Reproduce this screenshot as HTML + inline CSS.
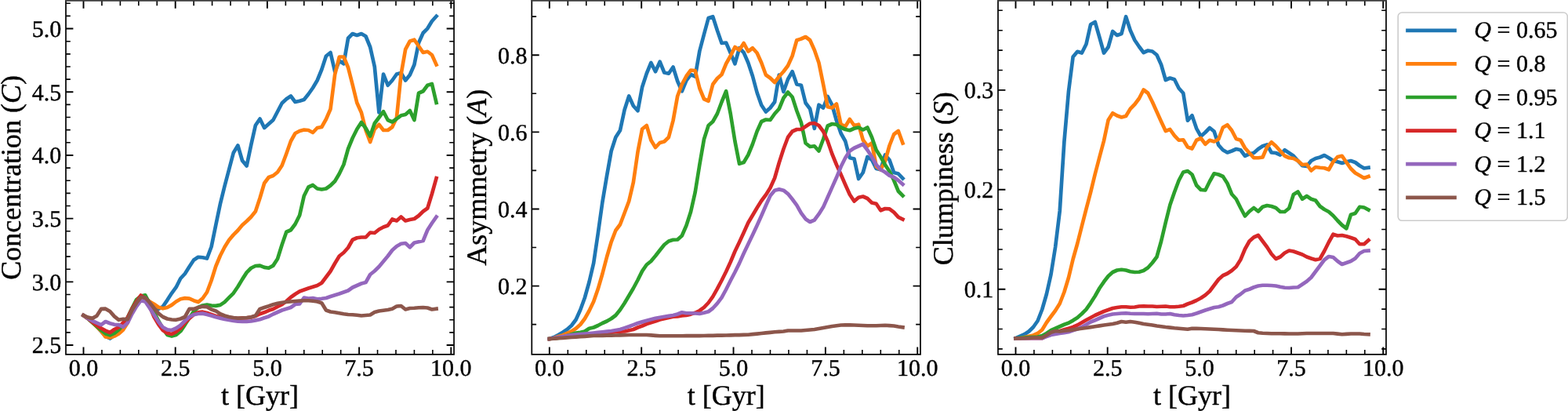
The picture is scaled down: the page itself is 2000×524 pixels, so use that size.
<!DOCTYPE html>
<html lang="en">
<head>
<meta charset="utf-8">
<title>Concentration, Asymmetry and Clumpiness versus time</title>
<style>
html,body{margin:0;padding:0;background:#fff;}
body{width:2000px;height:524px;overflow:hidden;}
svg{display:block;}
text{font-family:"Liberation Serif","DejaVu Serif",serif;fill:#000;text-rendering:geometricPrecision;stroke:#000;stroke-width:0.4px;}
.tk{font-size:30px;}
.lb{font-size:36px;}
.lg{font-size:30px;}
.it{font-style:italic;}
.cv{fill:none;stroke-width:4.7;stroke-linejoin:round;stroke-linecap:square;}
.sp{fill:none;stroke:#000;stroke-width:1.7;stroke-linejoin:miter;}
.mj{stroke:#000;stroke-width:1.9;fill:none;}
.mn{stroke:#000;stroke-width:1.6;fill:none;}
</style>
</head>
<body>
<svg width="2000" height="524" viewBox="0 0 2000 524">
<rect x="0" y="0" width="2000" height="524" fill="#ffffff"/>
<g id="p1">
<clipPath id="clip0"><rect x="84" y="0.8" width="495.06" height="451.1"/></clipPath>
<g clip-path="url(#clip0)">
<polyline class="cv" stroke="#1f77b4" points="106.5,402.1 112.13,406.2 117.75,411 123.38,416 129.01,422.5 134.63,428.75 140.26,431.5 145.88,427.5 151.51,423.75 157.13,416 162.76,405 168.39,393.75 174.01,383.75 179.64,377.5 185.26,380 190.89,385 196.51,388.75 202.14,393.9 207.76,390.8 213.39,382.6 219.02,373.8 224.64,366.2 230.27,355 235.89,349 241.52,340 247.14,331.5 252.77,327.75 258.4,328.25 264.02,329.5 269.65,314.5 275.27,287 280.9,260 286.52,237.25 292.15,216 297.78,194.75 303.4,185.5 309.03,204.75 314.65,211.5 320.28,184.75 325.9,159.75 331.53,151.5 337.16,163 342.78,158 348.41,153 354.03,142.25 359.66,131.5 365.28,126.25 370.91,122.5 376.54,130 382.16,128.75 387.79,127 393.41,120 399.04,112 404.66,102.5 410.29,88.75 415.92,71.5 421.54,67 427.17,91.25 432.79,77.5 438.42,81.25 444.04,48.75 449.67,43 455.29,45 460.92,43 466.55,46.25 472.17,60 477.8,85 483.42,143.5 489.05,94.5 494.67,108.75 500.3,102.5 505.93,94.5 511.55,93 517.18,102.5 522.8,95.5 528.43,82.5 534.05,54.5 539.68,42 545.31,36.3 550.93,27 556.56,20.75"/>
<polyline class="cv" stroke="#ff7f0e" points="106.5,402.1 112.13,406 117.75,411 123.38,416.5 129.01,422 134.63,429.5 140.26,430.5 145.88,428.6 151.51,425.4 157.13,420.4 162.76,411.6 168.39,395 174.01,384 179.64,378 185.26,379.8 190.89,384.5 196.51,387.8 202.14,391.7 207.76,393.3 213.39,392 219.02,388.9 224.64,384.5 230.27,381.3 235.89,380.1 241.52,380.7 247.14,383.2 252.77,385.1 258.4,380.5 264.02,372.5 269.65,357.5 275.27,339.5 280.9,326 286.52,315 292.15,306 297.78,299.4 303.4,293.75 309.03,287 314.65,282 320.28,276.5 325.9,269.5 331.53,252.5 337.16,233.5 342.78,226 348.41,224 354.03,219.5 359.66,211 365.28,196 370.91,180 376.54,170 382.16,167 387.79,165.5 393.41,166 399.04,169 404.66,163 410.29,162 415.92,152 421.54,139 427.17,95 432.79,72.5 438.42,72.5 444.04,86 449.67,108 455.29,131 460.92,143.5 466.55,166 472.17,181 477.8,164.5 483.42,158.8 489.05,166 494.67,166 500.3,162 505.93,150 511.55,95 517.18,62.8 522.8,52.5 528.43,50.75 534.05,58.75 539.68,67 545.31,65.75 550.93,70 556.56,82.5"/>
<polyline class="cv" stroke="#2ca02c" points="106.5,402.1 112.13,406 117.75,411 123.38,416 129.01,421 134.63,425.4 140.26,427.3 145.88,424.8 151.51,420.4 157.13,414 162.76,405 168.39,393 174.01,382 179.64,377.6 185.26,376.3 190.89,387 196.51,398 202.14,409 207.76,419 213.39,427 219.02,428.6 224.64,427 230.27,422.3 235.89,414.1 241.52,405.3 247.14,397.1 252.77,392 258.4,389.5 264.02,388.6 269.65,389.5 275.27,389.9 280.9,388.9 286.52,385.1 292.15,379.4 297.78,373.8 303.4,365.5 309.03,356.1 314.65,347.4 320.28,341.75 325.9,339 331.53,338.6 337.16,340.9 342.78,341.75 348.41,338.6 354.03,330 359.66,312 365.28,295.75 370.91,293.25 376.54,285.75 382.16,274.5 387.79,249.75 393.41,238.5 399.04,236 404.66,240.5 410.29,241.5 415.92,240.5 421.54,236.5 427.17,231 432.79,221.5 438.42,209.75 444.04,189.75 449.67,176 455.29,164.75 460.92,156 466.55,163.5 472.17,173.5 477.8,157.25 483.42,149.75 489.05,142.25 494.67,153 500.3,155.5 505.93,151.5 511.55,147.25 517.18,146 522.8,141 528.43,153 534.05,118.75 539.68,116.25 545.31,108.75 550.93,107 556.56,131"/>
<polyline class="cv" stroke="#d62728" points="106.5,402.1 112.13,406 117.75,410.5 123.38,414.7 129.01,418.5 134.63,421.6 140.26,424 145.88,420 151.51,417.2 157.13,411.5 162.76,405 168.39,393.8 174.01,384.6 179.64,376.6 185.26,380.5 190.89,390.8 196.51,404 202.14,413.5 207.76,421 213.39,424.8 219.02,426 224.64,422.9 230.27,418.5 235.89,411.6 241.52,405.9 247.14,400.9 252.77,398.3 258.4,397.7 264.02,399 269.65,400.9 275.27,403 280.9,404 286.52,405 292.15,405.5 297.78,406 303.4,406 309.03,405.3 314.65,405.3 320.28,404.5 325.9,403 331.53,400.2 337.16,398.3 342.78,395.8 348.41,394 354.03,391 359.66,388.25 365.28,384 370.91,379 376.54,375 382.16,371.5 387.79,369.5 393.41,367.5 399.04,365.75 404.66,364 410.29,360.75 415.92,353.25 421.54,345.75 427.17,335.75 432.79,326.5 438.42,322 444.04,315.75 449.67,305.75 455.29,303.25 460.92,302.5 466.55,302.5 472.17,296.5 477.8,297 483.42,292.5 489.05,289.5 494.67,287.5 500.3,279.5 505.93,281.5 511.55,276.5 517.18,281.5 522.8,280 528.43,279 534.05,275 539.68,269.5 545.31,265.5 550.93,247.25 556.56,227.25"/>
<polyline class="cv" stroke="#9467bd" points="106.5,402.1 112.13,405.9 117.75,409 123.38,411.6 129.01,414.1 134.63,410 140.26,412.2 145.88,413.8 151.51,414.1 157.13,416.9 162.76,411.6 168.39,400.2 174.01,390.8 179.64,383.2 185.26,384.5 190.89,392.7 196.51,401.5 202.14,410.3 207.76,417.2 213.39,420.4 219.02,421 224.64,418.5 230.27,414.7 235.89,409 241.52,404 247.14,401.2 252.77,400 258.4,399.6 264.02,400.9 269.65,402.5 275.27,404.3 280.9,405.6 286.52,406.9 292.15,408 297.78,409 303.4,409.7 309.03,409.9 314.65,409.8 320.28,409.4 325.9,408.4 331.53,407.2 337.16,405.3 342.78,403.4 348.41,400.5 354.03,398 359.66,395.5 365.28,393.75 370.91,392 376.54,388 382.16,387.5 387.79,379.5 393.41,380.5 399.04,380 404.66,381.25 410.29,380.75 415.92,380 421.54,378 427.17,376.25 432.79,374.5 438.42,372.5 444.04,370.5 449.67,366.5 455.29,364 460.92,361.5 466.55,360 472.17,350 477.8,345.5 483.42,340 489.05,333.25 494.67,326.5 500.3,319 505.93,314 511.55,310.75 517.18,310 522.8,315.25 528.43,309.5 534.05,308.25 539.68,307 545.31,293.25 550.93,284.5 556.56,276.5"/>
<polyline class="cv" stroke="#8c564b" points="106.5,402.1 112.13,404.6 117.75,405.9 123.38,402.7 129.01,393.9 134.63,393.7 140.26,397 145.88,403.4 151.51,407.8 157.13,406.8 162.76,407.2 168.39,395.2 174.01,386.4 179.64,379 185.26,379.4 190.89,385.7 196.51,392.7 202.14,399.6 207.76,404 213.39,406.5 219.02,407.5 224.64,407.8 230.27,406.5 235.89,404 241.52,393.9 247.14,393.9 252.77,392 258.4,390.8 264.02,391.2 269.65,394.6 275.27,396.4 280.9,400.2 286.52,402.5 292.15,404 297.78,405 303.4,405.6 309.03,405.5 314.65,405 320.28,404.3 325.9,402.5 331.53,393.9 337.16,392 342.78,390.2 348.41,388.25 354.03,386.75 359.66,385.75 365.28,385 370.91,384.5 376.54,384 382.16,383.5 387.79,383.25 393.41,383.25 399.04,383.75 404.66,384.5 410.29,386.25 415.92,395.5 421.54,397.5 427.17,398.25 432.79,399.25 438.42,400.25 444.04,401 449.67,401.25 455.29,401.75 460.92,402.5 466.55,402 472.17,401.5 477.8,398 483.42,396.5 489.05,395.75 494.67,395 500.3,393.75 505.93,390.5 511.55,390 517.18,394.5 522.8,393 528.43,392.75 534.05,392.25 539.68,392 545.31,392.5 550.93,394.5 556.56,393.75"/>
</g>
<path class="mn" d="M129.94 451.9v-5.8M129.94 0.8v6.5M153.38 451.9v-5.8M153.38 0.8v6.5M176.82 451.9v-5.8M176.82 0.8v6.5M200.26 451.9v-5.8M200.26 0.8v6.5M247.14 451.9v-5.8M247.14 0.8v6.5M270.59 451.9v-5.8M270.59 0.8v6.5M294.03 451.9v-5.8M294.03 0.8v6.5M317.47 451.9v-5.8M317.47 0.8v6.5M364.35 451.9v-5.8M364.35 0.8v6.5M387.79 451.9v-5.8M387.79 0.8v6.5M411.23 451.9v-5.8M411.23 0.8v6.5M434.67 451.9v-5.8M434.67 0.8v6.5M481.55 451.9v-5.8M481.55 0.8v6.5M504.99 451.9v-5.8M504.99 0.8v6.5M528.43 451.9v-5.8M528.43 0.8v6.5M551.87 451.9v-5.8M551.87 0.8v6.5M84 423.92h5.8M579.06 423.92h-5.8M84 407.78h5.8M579.06 407.78h-5.8M84 391.64h5.8M579.06 391.64h-5.8M84 375.5h5.8M579.06 375.5h-5.8M84 343.22h5.8M579.06 343.22h-5.8M84 327.08h5.8M579.06 327.08h-5.8M84 310.94h5.8M579.06 310.94h-5.8M84 294.8h5.8M579.06 294.8h-5.8M84 262.52h5.8M579.06 262.52h-5.8M84 246.38h5.8M579.06 246.38h-5.8M84 230.23h5.8M579.06 230.23h-5.8M84 214.09h5.8M579.06 214.09h-5.8M84 181.81h5.8M579.06 181.81h-5.8M84 165.67h5.8M579.06 165.67h-5.8M84 149.53h5.8M579.06 149.53h-5.8M84 133.39h5.8M579.06 133.39h-5.8M84 101.11h5.8M579.06 101.11h-5.8M84 84.97h5.8M579.06 84.97h-5.8M84 68.83h5.8M579.06 68.83h-5.8M84 52.69h5.8M579.06 52.69h-5.8M84 20.41h5.8M579.06 20.41h-5.8M84 4.27h5.8M579.06 4.27h-5.8"/>
<path class="mj" d="M106.5 451.9v-9.4M106.5 0.8v9.9M223.7 451.9v-9.4M223.7 0.8v9.9M340.91 451.9v-9.4M340.91 0.8v9.9M458.11 451.9v-9.4M458.11 0.8v9.9M575.31 451.9v-9.4M575.31 0.8v9.9M84 440.06h9.4M579.06 440.06h-9.4M84 359.36h9.4M579.06 359.36h-9.4M84 278.66h9.4M579.06 278.66h-9.4M84 197.95h9.4M579.06 197.95h-9.4M84 117.25h9.4M579.06 117.25h-9.4M84 36.55h9.4M579.06 36.55h-9.4"/>
<path class="sp" d="M84 0V451.9H579.06V0"/>
<path class="sp" stroke-linecap="square" style="stroke:#3d3d3d" d="M84 0.8H579.06"/>
<text class="tk" text-anchor="middle" x="106.5" y="478.7">0.0</text>
<text class="tk" text-anchor="middle" x="223.7" y="478.7">2.5</text>
<text class="tk" text-anchor="middle" x="340.91" y="478.7">5.0</text>
<text class="tk" text-anchor="middle" x="458.11" y="478.7">7.5</text>
<text class="tk" text-anchor="middle" x="575.31" y="478.7">10.0</text>
<text class="tk" text-anchor="end" x="78.3" y="450.36">2.5</text>
<text class="tk" text-anchor="end" x="78.3" y="369.66">3.0</text>
<text class="tk" text-anchor="end" x="78.3" y="288.96">3.5</text>
<text class="tk" text-anchor="end" x="78.3" y="208.25">4.0</text>
<text class="tk" text-anchor="end" x="78.3" y="127.55">4.5</text>
<text class="tk" text-anchor="end" x="78.3" y="46.85">5.0</text>
<text class="lb" text-anchor="middle" x="331.53" y="516.1">t [Gyr]</text>
<text class="lb" text-anchor="middle" transform="translate(25.5 226.35) rotate(-90)">Concentration (<tspan class="it">C</tspan>)</text>
</g>
<g id="p2">
<clipPath id="clip1"><rect x="678.3" y="0.8" width="495.7" height="451.1"/></clipPath>
<g clip-path="url(#clip1)">
<polyline class="cv" stroke="#1f77b4" points="700.83,432 706.46,430 712.1,427 717.73,423.75 723.36,420 729,415 734.63,407.5 740.26,395 745.9,379.5 751.53,359.5 757.16,335.5 762.79,297.5 768.43,257.5 774.06,224 779.69,192.5 785.33,175 790.96,166.25 796.59,140 802.22,122.5 807.86,135 813.49,141.25 819.12,111 824.76,93.75 830.39,80 836.02,91.25 841.66,78.75 847.29,92.5 852.92,93.75 858.55,85.5 864.19,103.5 869.82,116.25 875.45,102.5 881.09,95 886.72,97.5 892.35,65 897.99,43.75 903.62,23 909.25,21.25 914.88,38.75 920.52,55 926.15,54.5 931.78,67.5 937.42,81.25 943.05,61.25 948.68,67 954.31,80 959.95,97 965.58,118 971.21,134 976.85,142.5 982.48,137.5 988.11,130 993.75,95.5 999.38,117 1005.01,101 1010.64,91.25 1016.28,107.5 1021.91,108.75 1027.54,131.25 1033.18,138.75 1038.81,163.75 1044.44,133.75 1050.07,137.5 1055.71,123 1061.34,133.75 1066.97,153.75 1072.61,170 1078.24,180 1083.87,201.25 1089.51,202.5 1095.14,228 1100.77,220 1106.4,200 1112.04,203.75 1117.67,215 1123.3,216.25 1128.94,197.5 1134.57,204 1140.2,220 1145.84,221.5 1151.47,227.5"/>
<polyline class="cv" stroke="#ff7f0e" points="700.83,432 706.46,431 712.1,429 717.73,427.5 723.36,425 729,422.5 734.63,418.75 740.26,413.75 745.9,406.25 751.53,396.25 757.16,384.6 762.79,368.3 768.43,349 774.06,327.5 779.69,308.3 785.33,293.75 790.96,286.25 796.59,271.5 802.22,256.5 807.86,232.5 813.49,193.75 819.12,164.5 824.76,160 830.39,178.75 836.02,188 841.66,182 847.29,180.5 852.92,175 858.55,153.75 864.19,122.5 869.82,107.5 875.45,97 881.09,89.5 886.72,90 892.35,112.5 897.99,126.25 903.62,128.75 909.25,107.5 914.88,100 920.52,95 926.15,81.25 931.78,71.25 937.42,60 943.05,63.75 948.68,55 954.31,65.5 959.95,61.25 965.58,67.5 971.21,80 976.85,95.5 982.48,99.5 988.11,105 993.75,97.5 999.38,91.25 1005.01,83.75 1010.64,71.25 1016.28,51.25 1021.91,49.5 1027.54,47 1033.18,51.25 1038.81,63.75 1044.44,80 1050.07,107.5 1055.71,136.25 1061.34,137.5 1066.97,132.5 1072.61,158.75 1078.24,161.25 1083.87,152 1089.51,160 1095.14,158.75 1100.77,178.5 1106.4,186.25 1112.04,182.5 1117.67,212 1123.3,216.25 1128.94,205.5 1134.57,185.5 1140.2,171.25 1145.84,167 1151.47,182.5"/>
<polyline class="cv" stroke="#2ca02c" points="700.83,432 706.46,431.5 712.1,431 717.73,430 723.36,428 729,426.25 734.63,424.5 740.26,423.75 745.9,422.5 751.53,418.75 757.16,417.5 762.79,415 768.43,412 774.06,409.5 779.69,406.25 785.33,402 790.96,395 796.59,386.5 802.22,377 807.86,367.5 813.49,357 819.12,345.6 824.76,337.5 830.39,333 836.02,326.25 841.66,319 847.29,312 852.92,307.5 858.55,305.75 864.19,305.5 869.82,300.5 875.45,287.5 881.09,270 886.72,245 892.35,210 897.99,177.5 903.62,160 909.25,155 914.88,145 920.52,130 926.15,116.25 931.78,145 937.42,180 943.05,208.75 948.68,207 954.31,197.5 959.95,183.75 965.58,167.5 971.21,155 976.85,152.5 982.48,153 988.11,145 993.75,138.75 999.38,125 1005.01,117.5 1010.64,123.75 1016.28,141.25 1021.91,156.25 1027.54,182.5 1033.18,187 1038.81,186.25 1044.44,192.5 1050.07,177.5 1055.71,160.5 1061.34,158 1066.97,158.75 1072.61,162.5 1078.24,165 1083.87,166.25 1089.51,163.75 1095.14,162.5 1100.77,165.5 1106.4,162.5 1112.04,175 1117.67,191.25 1123.3,200 1128.94,210 1134.57,218.5 1140.2,230 1145.84,243.75 1151.47,249.5"/>
<polyline class="cv" stroke="#d62728" points="700.83,432 706.46,431.38 712.1,430.75 717.73,430.12 723.36,429.5 729,428.88 734.63,428.25 740.26,427.62 745.9,427 751.53,426.38 757.16,425.75 762.79,425.2 768.43,424.65 774.06,424.1 779.69,423.55 785.33,423 790.96,422.75 796.59,422.5 802.22,421.25 807.86,420 813.49,417.5 819.12,415.5 824.76,413 830.39,411.25 836.02,409.5 841.66,407.5 847.29,406.25 852.92,405 858.55,403.75 864.19,403.5 869.82,402.5 875.45,401.9 881.09,400.6 886.72,398.75 892.35,396 897.99,391.9 903.62,386 909.25,378.1 914.88,368.1 920.52,357.5 926.15,346.25 931.78,334 937.42,320.5 943.05,308.75 948.68,296.5 954.31,284 959.95,274.5 965.58,265 971.21,256 976.85,248.5 982.48,239.5 988.11,227 993.75,207.5 999.38,190 1005.01,175 1010.64,167.5 1016.28,165 1021.91,165 1027.54,161.25 1033.18,157.5 1038.81,157 1044.44,160 1050.07,167.5 1055.71,180 1061.34,196.25 1066.97,210 1072.61,222.5 1078.24,235.5 1083.87,248 1089.51,256.5 1095.14,251.7 1100.77,250.5 1106.4,253 1112.04,258.5 1117.67,259.8 1123.3,268.3 1128.94,266 1134.57,266.3 1140.2,270.6 1145.84,276.8 1151.47,279.5"/>
<polyline class="cv" stroke="#9467bd" points="700.83,432 706.46,431 712.1,430 717.73,429 723.36,428 729,427 734.63,426.5 740.26,426 745.9,425.5 751.53,425 757.16,424.5 762.79,423.88 768.43,423.25 774.06,422.62 779.69,422 785.33,421 790.96,420 796.59,418.12 802.22,416.25 807.86,414.12 813.49,412 819.12,410.38 824.76,408.75 830.39,407.25 836.02,405.75 841.66,404.75 847.29,403.75 852.92,402.88 858.55,402 864.19,400.5 869.82,398.25 875.45,399.25 881.09,399.25 886.72,399.5 892.35,400 897.99,398.75 903.62,397.25 909.25,393 914.88,386.9 920.52,379.4 926.15,369 931.78,357.8 937.42,347 943.05,335.6 948.68,323 954.31,311.25 959.95,299.5 965.58,287.5 971.21,275 976.85,262 982.48,249.6 988.11,242.7 993.75,241.4 999.38,242.7 1005.01,247.1 1010.64,254 1016.28,261.6 1021.91,271.6 1027.54,279.2 1033.18,283 1038.81,280.5 1044.44,272.9 1050.07,264.1 1055.71,251.5 1061.34,238.9 1066.97,226.3 1072.61,212.5 1078.24,201.25 1083.87,192.5 1089.51,188.75 1095.14,186.25 1100.77,183.75 1106.4,191.25 1112.04,200 1117.67,210 1123.3,216.25 1128.94,219.5 1134.57,223.75 1140.2,226 1145.84,230 1151.47,235"/>
<polyline class="cv" stroke="#8c564b" points="700.83,432 706.46,431.6 712.1,431.2 717.73,430.8 723.36,430.4 729,430 734.63,429.6 740.26,429.2 745.9,428.8 751.53,428.4 757.16,428 762.79,427.9 768.43,427.8 774.06,427.7 779.69,427.6 785.33,427.5 790.96,427.33 796.59,427.17 802.22,427 807.86,427 813.49,427 819.12,427 824.76,427 830.39,427.42 836.02,427.83 841.66,428.25 847.29,428.25 852.92,428.25 858.55,428.25 864.19,428.25 869.82,428.25 875.45,428.2 881.09,428.15 886.72,428.1 892.35,428.05 897.99,428 903.62,427.9 909.25,427.8 914.88,427.7 920.52,427.6 926.15,427.5 931.78,427.35 937.42,427.2 943.05,427.05 948.68,426.9 954.31,426.75 959.95,426.17 965.58,425.58 971.21,425 976.85,424.42 982.48,423.83 988.11,423.25 993.75,422.88 999.38,422.5 1005.01,421.5 1010.64,421.5 1016.28,421.5 1021.91,421.5 1027.54,421 1033.18,420.5 1038.81,420 1044.44,419 1050.07,418 1055.71,417 1061.34,416 1066.97,415.25 1072.61,414.5 1078.24,414.38 1083.87,414.25 1089.51,414.5 1095.14,414.75 1100.77,415 1106.4,415.25 1112.04,415.25 1117.67,415.25 1123.3,415 1128.94,414.75 1134.57,415.12 1140.2,415.5 1145.84,416.5 1151.47,417.25"/>
</g>
<path class="mn" d="M724.3 451.9v-5.8M724.3 0.8v6.5M747.77 451.9v-5.8M747.77 0.8v6.5M771.24 451.9v-5.8M771.24 0.8v6.5M794.71 451.9v-5.8M794.71 0.8v6.5M841.66 451.9v-5.8M841.66 0.8v6.5M865.13 451.9v-5.8M865.13 0.8v6.5M888.6 451.9v-5.8M888.6 0.8v6.5M912.07 451.9v-5.8M912.07 0.8v6.5M959.01 451.9v-5.8M959.01 0.8v6.5M982.48 451.9v-5.8M982.48 0.8v6.5M1005.95 451.9v-5.8M1005.95 0.8v6.5M1029.42 451.9v-5.8M1029.42 0.8v6.5M1076.36 451.9v-5.8M1076.36 0.8v6.5M1099.83 451.9v-5.8M1099.83 0.8v6.5M1123.3 451.9v-5.8M1123.3 0.8v6.5M1146.77 451.9v-5.8M1146.77 0.8v6.5M678.3 413.67h5.8M1174 413.67h-5.8M678.3 315.53h5.8M1174 315.53h-5.8M678.3 217.4h5.8M1174 217.4h-5.8M678.3 119.27h5.8M1174 119.27h-5.8M678.3 21.13h5.8M1174 21.13h-5.8"/>
<path class="mj" d="M700.83 451.9v-9.4M700.83 0.8v9.9M818.19 451.9v-9.4M818.19 0.8v9.9M935.54 451.9v-9.4M935.54 0.8v9.9M1052.89 451.9v-9.4M1052.89 0.8v9.9M1170.24 451.9v-9.4M1170.24 0.8v9.9M678.3 364.6h9.4M1174 364.6h-9.4M678.3 266.47h9.4M1174 266.47h-9.4M678.3 168.33h9.4M1174 168.33h-9.4M678.3 70.2h9.4M1174 70.2h-9.4"/>
<path class="sp" d="M678.3 0V451.9H1174V0"/>
<path class="sp" stroke-linecap="square" style="stroke:#3d3d3d" d="M678.3 0.8H1174"/>
<text class="tk" text-anchor="middle" x="700.83" y="478.7">0.0</text>
<text class="tk" text-anchor="middle" x="818.19" y="478.7">2.5</text>
<text class="tk" text-anchor="middle" x="935.54" y="478.7">5.0</text>
<text class="tk" text-anchor="middle" x="1052.89" y="478.7">7.5</text>
<text class="tk" text-anchor="middle" x="1170.24" y="478.7">10.0</text>
<text class="tk" text-anchor="end" x="672.6" y="374.9">0.2</text>
<text class="tk" text-anchor="end" x="672.6" y="276.77">0.4</text>
<text class="tk" text-anchor="end" x="672.6" y="178.63">0.6</text>
<text class="tk" text-anchor="end" x="672.6" y="80.5">0.8</text>
<text class="lb" text-anchor="middle" x="926.15" y="516.1">t [Gyr]</text>
<text class="lb" text-anchor="middle" transform="translate(619.8 226.35) rotate(-90)">Asymmetry (<tspan class="it">A</tspan>)</text>
</g>
<g id="p3">
<clipPath id="clip2"><rect x="1273" y="0.8" width="495" height="451.1"/></clipPath>
<g clip-path="url(#clip2)">
<polyline class="cv" stroke="#1f77b4" points="1295.5,431.25 1301.12,428.75 1306.75,426.25 1312.38,422.5 1318,417 1323.62,409 1329.25,394.5 1334.88,375 1340.5,350 1346.12,315 1351.75,269 1357.38,181 1363,116.5 1368.62,72.5 1374.25,65.75 1379.88,67.5 1385.5,56.25 1391.12,31.25 1396.75,28 1402.38,47.5 1408,67.5 1413.62,60 1419.25,40 1424.88,45 1430.5,43 1436.12,21.25 1441.75,38.75 1447.38,51.25 1453,59.5 1458.62,67 1464.25,64.5 1469.88,65.5 1475.5,70 1481.12,82.5 1486.75,102 1492.38,99.5 1498,101.25 1503.62,112.5 1509.25,118.75 1514.88,153.75 1520.5,147.3 1526.12,163.8 1531.75,173.75 1537.38,168.75 1543,163 1548.62,167.5 1554.25,185 1559.88,191.25 1565.5,194.5 1571.12,192.5 1576.75,190 1582.38,191.25 1588,198.75 1593.62,196.25 1599.25,195 1604.88,190 1610.5,186.25 1616.12,184.5 1621.75,194.5 1627.38,195 1633,197.5 1638.62,191.25 1644.25,195 1649.88,198.75 1655.5,205 1661.12,211.25 1666.75,212 1672.38,205 1678,202 1683.62,200.5 1689.25,198 1694.88,201.25 1700.5,205 1706.12,206.25 1711.75,208 1717.38,206.25 1723,205 1728.62,207 1734.25,211.25 1739.88,214.5 1745.5,213.75"/>
<polyline class="cv" stroke="#ff7f0e" points="1295.5,431.25 1301.12,431.25 1306.75,430 1312.38,428.75 1318,427.5 1323.62,425 1329.25,420.5 1334.88,411.25 1340.5,403.5 1346.12,396 1351.75,387 1357.38,372.5 1363,354 1368.62,330.5 1374.25,310.5 1379.88,288.25 1385.5,266.4 1391.12,245.1 1396.75,222 1402.38,200.5 1408,179.5 1413.62,153 1419.25,144.2 1424.88,147.5 1430.5,149.5 1436.12,148 1441.75,138.75 1447.38,133 1453,125.5 1458.62,114.5 1464.25,118.75 1469.88,130 1475.5,142.5 1481.12,155 1486.75,167 1492.38,165 1498,172.8 1503.62,178.75 1509.25,178.25 1514.88,187.5 1520.5,189.5 1526.12,178.75 1531.75,176.25 1537.38,183.75 1543,178.75 1548.62,180.5 1554.25,177.5 1559.88,162.5 1565.5,159.25 1571.12,166.25 1576.75,177 1582.38,178.75 1588,188.75 1593.62,195 1599.25,201.25 1604.88,201.25 1610.5,200.5 1616.12,187.5 1621.75,181.25 1627.38,186.25 1633,192.5 1638.62,198.75 1644.25,201.25 1649.88,202 1655.5,205 1661.12,210 1666.75,209.5 1672.38,217.5 1678,213 1683.62,213.75 1689.25,214.25 1694.88,216.25 1700.5,206.25 1706.12,200 1711.75,198.75 1717.38,207 1723,215 1728.62,220.5 1734.25,223.75 1739.88,227 1745.5,225"/>
<polyline class="cv" stroke="#2ca02c" points="1295.5,431.25 1301.12,430.9 1306.75,430.55 1312.38,430.2 1318,429.85 1323.62,429.5 1329.25,428 1334.88,425 1340.5,421.25 1346.12,418.75 1351.75,416.25 1357.38,413.75 1363,411.8 1368.62,408.6 1374.25,405 1379.88,400 1385.5,394.4 1391.12,386.3 1396.75,377.5 1402.38,367.5 1408,359.3 1413.62,352 1419.25,347 1424.88,344.5 1430.5,343.75 1436.12,344.5 1441.75,346.25 1447.38,347 1453,346.75 1458.62,345 1464.25,341.25 1469.88,335 1475.5,327.5 1481.12,307.5 1486.75,283.75 1492.38,261.25 1498,245 1503.62,230 1509.25,219.5 1514.88,218 1520.5,222.5 1526.12,236.25 1531.75,242 1537.38,242.5 1543,231.25 1548.62,221.25 1554.25,222.5 1559.88,225 1565.5,233.75 1571.12,247.5 1576.75,253.75 1582.38,265 1588,275.5 1593.62,269.5 1599.25,265 1604.88,269.5 1610.5,263.75 1616.12,262 1621.75,263 1627.38,265 1633,270 1638.62,270 1644.25,265.5 1649.88,248 1655.5,244.5 1661.12,253.75 1666.75,250 1672.38,253.75 1678,255.5 1683.62,263 1689.25,267 1694.88,270 1700.5,275 1706.12,281.25 1711.75,287 1717.38,291.25 1723,273.75 1728.62,272 1734.25,263.75 1739.88,264.5 1745.5,267.5"/>
<polyline class="cv" stroke="#d62728" points="1295.5,431.25 1301.12,431.25 1306.75,431.25 1312.38,431.25 1318,431.25 1323.62,431.25 1329.25,431.25 1334.88,428 1340.5,425 1346.12,423.5 1351.75,422 1357.38,420.38 1363,418.75 1368.62,417 1374.25,414.5 1379.88,411.25 1385.5,408 1391.12,405 1396.75,402 1402.38,399.5 1408,397 1413.62,395 1419.25,393 1424.88,392 1430.5,391.25 1436.12,391.25 1441.75,391.75 1447.38,391.5 1453,390.5 1458.62,390.25 1464.25,390.5 1469.88,390.5 1475.5,391 1481.12,390.75 1486.75,390.5 1492.38,391.25 1498,391.25 1503.62,390.75 1509.25,390 1514.88,387.5 1520.5,385.5 1526.12,383 1531.75,380 1537.38,376.25 1543,371.25 1548.62,363.75 1554.25,356.25 1559.88,351.25 1565.5,348.75 1571.12,345 1576.75,340 1582.38,331 1588,317.5 1593.62,307.5 1599.25,302.5 1604.88,300 1610.5,307.5 1616.12,315 1621.75,323.75 1627.38,330 1633,327.5 1638.62,322.5 1644.25,319.5 1649.88,320.5 1655.5,322.5 1661.12,324.5 1666.75,327.5 1672.38,329.5 1678,331.25 1683.62,330 1689.25,320 1694.88,308.75 1700.5,298.75 1706.12,300.5 1711.75,300 1717.38,301.25 1723,303 1728.62,305 1734.25,311.25 1739.88,311.25 1745.5,306.25"/>
<polyline class="cv" stroke="#9467bd" points="1295.5,431.25 1301.12,431.25 1306.75,431.25 1312.38,431.25 1318,431.25 1323.62,431.25 1329.25,431.25 1334.88,429.12 1340.5,427 1346.12,426 1351.75,425 1357.38,424.12 1363,423.25 1368.62,421.25 1374.25,419.5 1379.88,417 1385.5,413.75 1391.12,410.5 1396.75,408.25 1402.38,405.75 1408,403.25 1413.62,401.75 1419.25,400.5 1424.88,400 1430.5,399.5 1436.12,399.25 1441.75,399.75 1447.38,400 1453,400 1458.62,400 1464.25,400.25 1469.88,400 1475.5,399.75 1481.12,400.5 1486.75,400.5 1492.38,400 1498,401.25 1503.62,402 1509.25,402.5 1514.88,402 1520.5,401.25 1526.12,399.5 1531.75,397.5 1537.38,395.5 1543,393.75 1548.62,392 1554.25,391.25 1559.88,389.5 1565.5,387 1571.12,385 1576.75,378.75 1582.38,375 1588,370.5 1593.62,368.75 1599.25,366.25 1604.88,364.5 1610.5,363.75 1616.12,363.75 1621.75,364 1627.38,364.5 1633,365.75 1638.62,366.75 1644.25,367 1649.88,366.5 1655.5,366.25 1661.12,362.5 1666.75,358.75 1672.38,353.75 1678,346.25 1683.62,338.75 1689.25,331.25 1694.88,327 1700.5,328 1706.12,333 1711.75,337 1717.38,335 1723,333 1728.62,329.5 1734.25,323 1739.88,320 1745.5,319.5"/>
<polyline class="cv" stroke="#8c564b" points="1295.5,431.25 1301.12,431.25 1306.75,431.25 1312.38,430.88 1318,430.5 1323.62,430.5 1329.25,430.5 1334.88,427.5 1340.5,423.75 1346.12,422 1351.75,422.5 1357.38,421.75 1363,421.25 1368.62,420.38 1374.25,419.5 1379.88,418.75 1385.5,418 1391.12,417.12 1396.75,416.25 1402.38,415.38 1408,414.5 1413.62,413.75 1419.25,413 1424.88,411.75 1430.5,410 1436.12,410.75 1441.75,410 1447.38,410.75 1453,411.75 1458.62,413 1464.25,413.75 1469.88,414.5 1475.5,415.5 1481.12,416.25 1486.75,417 1492.38,417.62 1498,418.25 1503.62,418.75 1509.25,419.25 1514.88,419.75 1520.5,418.75 1526.12,418.88 1531.75,419 1537.38,419.25 1543,419.5 1548.62,419.75 1554.25,420 1559.88,420.38 1565.5,420.75 1571.12,421 1576.75,421.25 1582.38,421.5 1588,421.75 1593.62,421.88 1599.25,422 1604.88,424.25 1610.5,424.75 1616.12,425 1621.75,425.25 1627.38,425.25 1633,425.25 1638.62,425.38 1644.25,425.5 1649.88,425.5 1655.5,425.5 1661.12,425.25 1666.75,425 1672.38,425 1678,425 1683.62,425 1689.25,425 1694.88,425 1700.5,425 1706.12,425.62 1711.75,426.25 1717.38,425.88 1723,425.5 1728.62,425.5 1734.25,425.5 1739.88,426 1745.5,426.25"/>
</g>
<path class="mn" d="M1318.94 451.9v-5.8M1318.94 0.8v6.5M1342.38 451.9v-5.8M1342.38 0.8v6.5M1365.81 451.9v-5.8M1365.81 0.8v6.5M1389.25 451.9v-5.8M1389.25 0.8v6.5M1436.12 451.9v-5.8M1436.12 0.8v6.5M1459.56 451.9v-5.8M1459.56 0.8v6.5M1483 451.9v-5.8M1483 0.8v6.5M1506.44 451.9v-5.8M1506.44 0.8v6.5M1553.31 451.9v-5.8M1553.31 0.8v6.5M1576.75 451.9v-5.8M1576.75 0.8v6.5M1600.19 451.9v-5.8M1600.19 0.8v6.5M1623.62 451.9v-5.8M1623.62 0.8v6.5M1670.5 451.9v-5.8M1670.5 0.8v6.5M1693.94 451.9v-5.8M1693.94 0.8v6.5M1717.38 451.9v-5.8M1717.38 0.8v6.5M1740.81 451.9v-5.8M1740.81 0.8v6.5M1273 444.86h5.8M1768 444.86h-5.8M1273 419.47h5.8M1768 419.47h-5.8M1273 394.08h5.8M1768 394.08h-5.8M1273 343.31h5.8M1768 343.31h-5.8M1273 317.93h5.8M1768 317.93h-5.8M1273 292.54h5.8M1768 292.54h-5.8M1273 267.16h5.8M1768 267.16h-5.8M1273 216.39h5.8M1768 216.39h-5.8M1273 191h5.8M1768 191h-5.8M1273 165.62h5.8M1768 165.62h-5.8M1273 140.23h5.8M1768 140.23h-5.8M1273 89.46h5.8M1768 89.46h-5.8M1273 64.08h5.8M1768 64.08h-5.8M1273 38.69h5.8M1768 38.69h-5.8M1273 13.31h5.8M1768 13.31h-5.8"/>
<path class="mj" d="M1295.5 451.9v-9.4M1295.5 0.8v9.9M1412.69 451.9v-9.4M1412.69 0.8v9.9M1529.88 451.9v-9.4M1529.88 0.8v9.9M1647.06 451.9v-9.4M1647.06 0.8v9.9M1764.25 451.9v-9.4M1764.25 0.8v9.9M1273 368.7h9.4M1768 368.7h-9.4M1273 241.77h9.4M1768 241.77h-9.4M1273 114.85h9.4M1768 114.85h-9.4"/>
<path class="sp" d="M1273 0V451.9H1768V0"/>
<path class="sp" stroke-linecap="square" style="stroke:#3d3d3d" d="M1273 0.8H1768"/>
<text class="tk" text-anchor="middle" x="1295.5" y="478.7">0.0</text>
<text class="tk" text-anchor="middle" x="1412.69" y="478.7">2.5</text>
<text class="tk" text-anchor="middle" x="1529.88" y="478.7">5.0</text>
<text class="tk" text-anchor="middle" x="1647.06" y="478.7">7.5</text>
<text class="tk" text-anchor="middle" x="1764.25" y="478.7">10.0</text>
<text class="tk" text-anchor="end" x="1267.3" y="379">0.1</text>
<text class="tk" text-anchor="end" x="1267.3" y="252.07">0.2</text>
<text class="tk" text-anchor="end" x="1267.3" y="125.15">0.3</text>
<text class="lb" text-anchor="middle" x="1520.5" y="516.1">t [Gyr]</text>
<text class="lb" text-anchor="middle" transform="translate(1214.5 227.65) rotate(-90)">Clumpiness (<tspan class="it">S</tspan>)</text>
</g>
<g id="legend">
<rect x="1783.2" y="16" width="216.1" height="265.3" rx="5" ry="5" fill="#ffffff" fill-opacity="0.8" stroke="#cccccc" stroke-width="1.6"/>
<line x1="1795.5" y1="38.8" x2="1855.5" y2="38.8" stroke="#1f77b4" stroke-width="4.7" stroke-linecap="square"/>
<text class="lg" x="1880.3" y="48.3"><tspan class="it">Q</tspan> = 0.65</text>
<line x1="1795.5" y1="81.4" x2="1855.5" y2="81.4" stroke="#ff7f0e" stroke-width="4.7" stroke-linecap="square"/>
<text class="lg" x="1880.3" y="90.9"><tspan class="it">Q</tspan> = 0.8</text>
<line x1="1795.5" y1="124" x2="1855.5" y2="124" stroke="#2ca02c" stroke-width="4.7" stroke-linecap="square"/>
<text class="lg" x="1880.3" y="133.5"><tspan class="it">Q</tspan> = 0.95</text>
<line x1="1795.5" y1="166.6" x2="1855.5" y2="166.6" stroke="#d62728" stroke-width="4.7" stroke-linecap="square"/>
<text class="lg" x="1880.3" y="176.1"><tspan class="it">Q</tspan> = 1.1</text>
<line x1="1795.5" y1="209.2" x2="1855.5" y2="209.2" stroke="#9467bd" stroke-width="4.7" stroke-linecap="square"/>
<text class="lg" x="1880.3" y="218.7"><tspan class="it">Q</tspan> = 1.2</text>
<line x1="1795.5" y1="251.8" x2="1855.5" y2="251.8" stroke="#8c564b" stroke-width="4.7" stroke-linecap="square"/>
<text class="lg" x="1880.3" y="261.3"><tspan class="it">Q</tspan> = 1.5</text>
</g>
</svg>
</body>
</html>
